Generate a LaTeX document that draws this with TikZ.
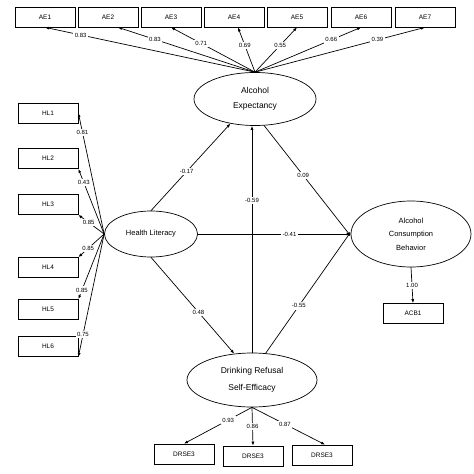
\documentclass[tikz,border=0pt]{standalone}
\usepackage{fontspec}
\setmainfont{Liberation Sans}
\usetikzlibrary{arrows.meta,shapes.geometric}

\begin{document}
\begin{tikzpicture}[x=1pt, y=-1pt, every path/.style={line cap=round, line width=0.7pt}]

        \tikzset{item/.style = {shape=rectangle,draw,minimum width=60pt,minimum height=20pt,inner sep=0pt,font=\fontsize{6.5}{7}\selectfont}}
        \tikzset{factor/.style = {shape=ellipse,draw,inner sep=0pt,align=center,font=\fontsize{8.5}{15}\selectfont}}
        \tikzset{link/.style = {-{Latex[length=4pt,width=3pt]}}}
        \tikzset{coef/.style = {fill=white,inner sep=1.5pt,font=\fontsize{6}{6}\selectfont}}

        \useasboundingbox[fill=white] (0,0) rectangle (474,474);

        % latent factors
        \node[factor,minimum width=122pt,minimum height=53pt] (AE) at (255,99) {Alcohol\\Expectancy};
        \node[factor,minimum width=93pt,minimum height=46pt,font=\fontsize{7.5}{9}\selectfont] (HL) at (151,234) {Health Literacy};
        \node[factor,minimum width=120pt,minimum height=66pt,font=\fontsize{7.5}{13.5}\selectfont] (ACB) at (411,234) {Alcohol\\Consumption\\Behavior};
        \node[factor,minimum width=130pt,minimum height=54pt,font=\fontsize{8.5}{17}\selectfont] (DRSE) at (252,380) {Drinking Refusal\\Self-Efficacy};

        % indicators
        \node[item] (AE1) at (45,17) {AE1};
        \node[item] (AE2) at (108,17) {AE2};
        \node[item] (AE3) at (171,17) {AE3};
        \node[item] (AE4) at (234,17) {AE4};
        \node[item] (AE5) at (297,17) {AE5};
        \node[item] (AE6) at (361,17) {AE6};
        \node[item] (AE7) at (425,17) {AE7};

        \node[item] (HL1) at (48,113) {HL1};
        \node[item] (HL2) at (48,158.5) {HL2};
        \node[item] (HL3) at (48,204.5) {HL3};
        \node[item] (HL4) at (48,267.5) {HL4};
        \node[item] (HL5) at (48,309.5) {HL5};
        \node[item] (HL6) at (48,346.5) {HL6};

        \node[item] (ACB1) at (413,313.5) {ACB1};

        \node[item] (DR1) at (184,454) {DRSE3};
        \node[item] (DR2) at (253,456) {DRSE3};
        \node[item] (DR3) at (322,455) {DRSE3};

        % loadings
        \draw[link] (AE.north) -- node[coef,pos=0.83] {0.83} (AE1.south);
        \draw[link] (AE.north) -- node[coef,pos=0.73] {0.83} ([xshift=10pt]AE2.south);
        \draw[link] (AE.north) -- node[coef,pos=0.64] {0.71} (AE3.south);
        \draw[link] (AE.north) -- node[coef,pos=0.6] {0.69} ([xshift=4pt]AE4.south);
        \draw[link] (AE.north) -- node[coef,pos=0.6] {0.55} (AE5.south);
        \draw[link] (AE.north) -- node[coef,pos=0.72] {0.66} (AE6.south);
        \draw[link] (AE.north) -- node[coef,pos=0.72] {0.39} (AE7.south);

        \draw[link] (HL.west) -- node[coef,pos=0.84] {0.81} (HL1.east);
        \draw[link] (HL.west) -- node[coef,pos=0.79] {0.43} (HL2.south east);
        \draw[link] (HL.west) -- node[coef,pos=0.6] {0.85} (HL3.south east);
        \draw[link] (HL.west) -- node[coef,pos=0.62] {0.85} (HL4.north east);
        \draw[link] (HL.west) -- node[coef,pos=0.86] {0.85} (HL5.north east);
        \draw[link] (HL.west) -- node[coef,pos=0.82] {0.75} (HL6.south east);

        \draw[link] (ACB.south) -- node[coef] {1.00} (ACB1.north);

        \draw[link] (DRSE.south) -- node[coef,pos=0.35] {0.93} (DR1.north);
        \draw[link] (DRSE.south) -- node[coef,pos=0.5] {0.86} (DR2.north);
        \draw[link] (DRSE.south) -- node[coef,pos=0.45] {0.87} ([xshift=3pt]DR3.north);

        % structural paths
        \draw[link] (HL.north) -- node[coef,pos=0.45] {-0.17} (AE.225);
        \draw[link] (HL.south) -- node[coef,pos=0.57] {0.48} (DRSE.124);
        \draw[link] (HL.east) -- node[coef,pos=0.6] {-0.41} (ACB.west);
        \draw[link] (DRSE.north) -- node[coef,pos=0.67] {-0.59} (DRSE.north |- AE.south);
        \draw[link] (AE.289) -- node[coef,pos=0.45] {0.09} (ACB.182);
        \draw[link] (DRSE.63) -- node[coef,pos=0.39] {-0.55} (ACB.178);

\end{tikzpicture}
\end{document}
